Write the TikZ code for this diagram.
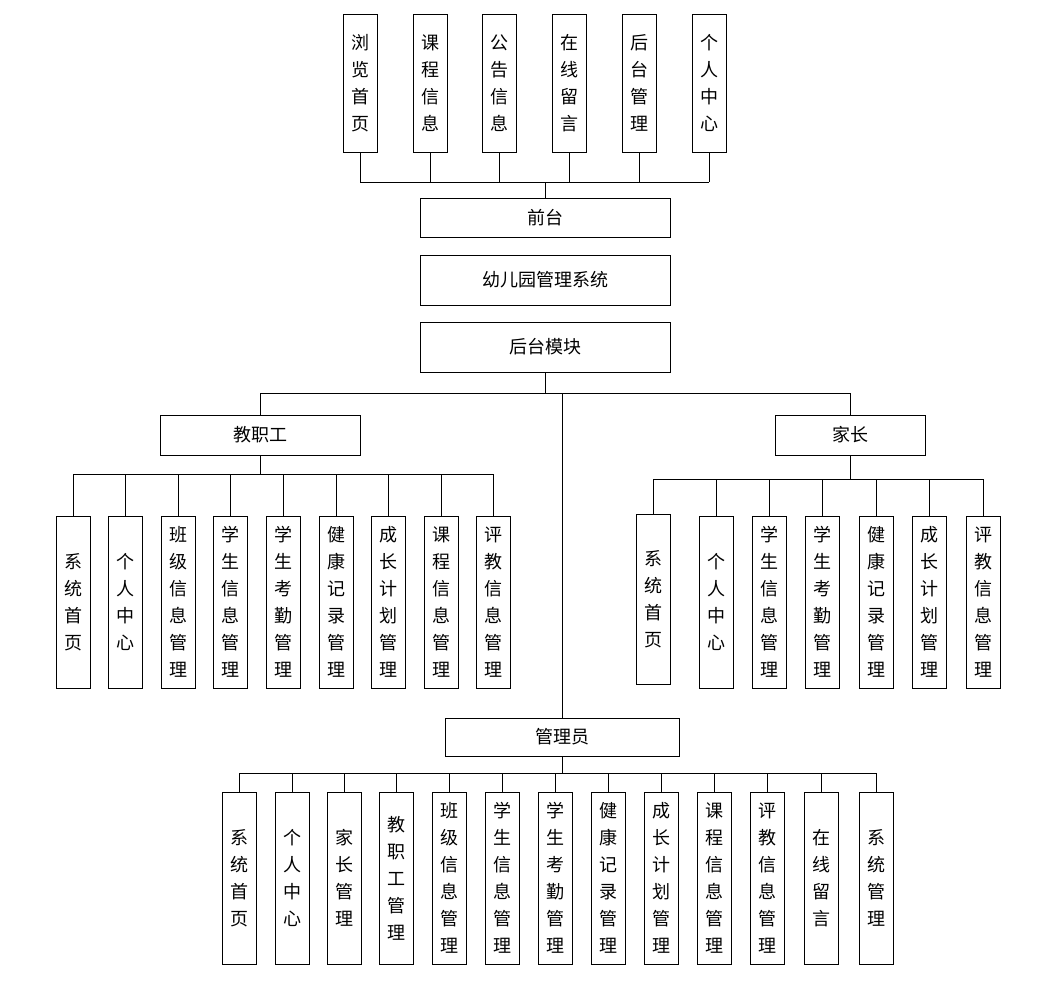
\documentclass[tikz,border=0pt]{standalone}
\usepackage{fontspec}
\newfontfamily\cjk{Noto Sans CJK SC}
\begin{document}
\begin{tikzpicture}[x=1pt,y=-1pt,
 box/.style={draw,line width=0.9pt,inner sep=0pt,font=\cjk\fontsize{18}{27}\selectfont,align=center},
 vb/.style={box,minimum width=34pt,minimum height=#1},
 ln/.style={line width=0.9pt}]
\useasboundingbox (0,0) rectangle (1054,980);
% top
\foreach \x/\t/\n in {360/浏\\览\\首\\页/a1,430/课\\程\\信\\息/a2,499/公\\告\\信\\息/a3,569/在\\线\\留\\言/a4,639/后\\台\\管\\理/a5,709/个\\人\\中\\心/a6}
  \node[vb=138pt] (\n) at (\x,83) {\t};
\node[box,minimum width=250pt,minimum height=39pt] (qt) at (545,217.5) {前台};
\node[box,minimum width=250pt,minimum height=50pt] (sys) at (545,280) {幼儿园管理系统};
\node[box,minimum width=250pt,minimum height=50pt] (ht) at (545,347) {后台模块};
\coordinate (tj) at (545,182);
\foreach \n in {a1,a2,a3,a4,a5,a6} \draw[ln] (\n.south) -- (\n.south|-tj);
\draw[ln] (a1.south|-tj) -- (a6.south|-tj);
\draw[ln] (tj) -- (qt.north);
% middle
\node[box,minimum width=200pt,minimum height=40pt] (jz) at (260,435) {教职工};
\node[box,minimum width=150pt,minimum height=40pt] (jc) at (850,435) {家长};
\node[box,minimum width=234pt,minimum height=38pt] (gl) at (562,737) {管理员};
\coordinate (hj) at (545,393);
\draw[ln] (ht.south) -- (hj);
\draw[ln] (jz.north|-hj) -- (jc.north|-hj);
\draw[ln] (jz.north|-hj) -- (jz.north);
\draw[ln] (jc.north|-hj) -- (jc.north);
\draw[ln] (gl.north|-hj) -- (gl.north);
% staff
\coordinate (sj) at (260,474);
\foreach \x/\t/\n in {73/系\\统\\首\\页/b1,125/个\\人\\中\\心/b2,178/班\\级\\信\\息\\管\\理/b3,230/学\\生\\信\\息\\管\\理/b4,283/学\\生\\考\\勤\\管\\理/b5,336/健\\康\\记\\录\\管\\理/b6,388/成\\长\\计\\划\\管\\理/b7,441/课\\程\\信\\息\\管\\理/b8,493/评\\教\\信\\息\\管\\理/b9}
  {\node[vb=172pt] (\n) at (\x,602) {\t}; \draw[ln] (\n.north) -- (\n.north|-sj);}
\draw[ln] (jz.south) -- (sj);
\draw[ln] (b1.north|-sj) -- (b9.north|-sj);
% parent
\coordinate (pj) at (850,479);
\node[vb=170pt] (c1) at (653,599) {系\\统\\首\\页};
\foreach \x/\t/\n in {716/个\\人\\中\\心/c2,769/学\\生\\信\\息\\管\\理/c3,822/学\\生\\考\\勤\\管\\理/c4,876/健\\康\\记\\录\\管\\理/c5,929/成\\长\\计\\划\\管\\理/c6,983/评\\教\\信\\息\\管\\理/c7}
  {\node[vb=172pt] (\n) at (\x,602) {\t}; \draw[ln] (\n.north) -- (\n.north|-pj);}
\draw[ln] (c1.north) -- (c1.north|-pj);
\draw[ln] (jc.south) -- (pj);
\draw[ln] (c1.north|-pj) -- (c7.north|-pj);
% admin
\coordinate (gj) at (562,773);
\foreach \x/\t/\n in {239/系\\统\\首\\页/d1,292/个\\人\\中\\心/d2,344/家\\长\\管\\理/d3,396/教\\职\\工\\管\\理/d4,449/班\\级\\信\\息\\管\\理/d5,502/学\\生\\信\\息\\管\\理/d6,555/学\\生\\考\\勤\\管\\理/d7,608/健\\康\\记\\录\\管\\理/d8,661/成\\长\\计\\划\\管\\理/d9,714/课\\程\\信\\息\\管\\理/d10,767/评\\教\\信\\息\\管\\理/d11,821/在\\线\\留\\言/d12,876/系\\统\\管\\理/d13}
  {\node[vb=172pt] (\n) at (\x,878) {\t}; \draw[ln] (\n.north) -- (\n.north|-gj);}
\draw[ln] (gl.south) -- (gj);
\draw[ln] (d1.north|-gj) -- (d13.north|-gj);
\end{tikzpicture}
\end{document}
